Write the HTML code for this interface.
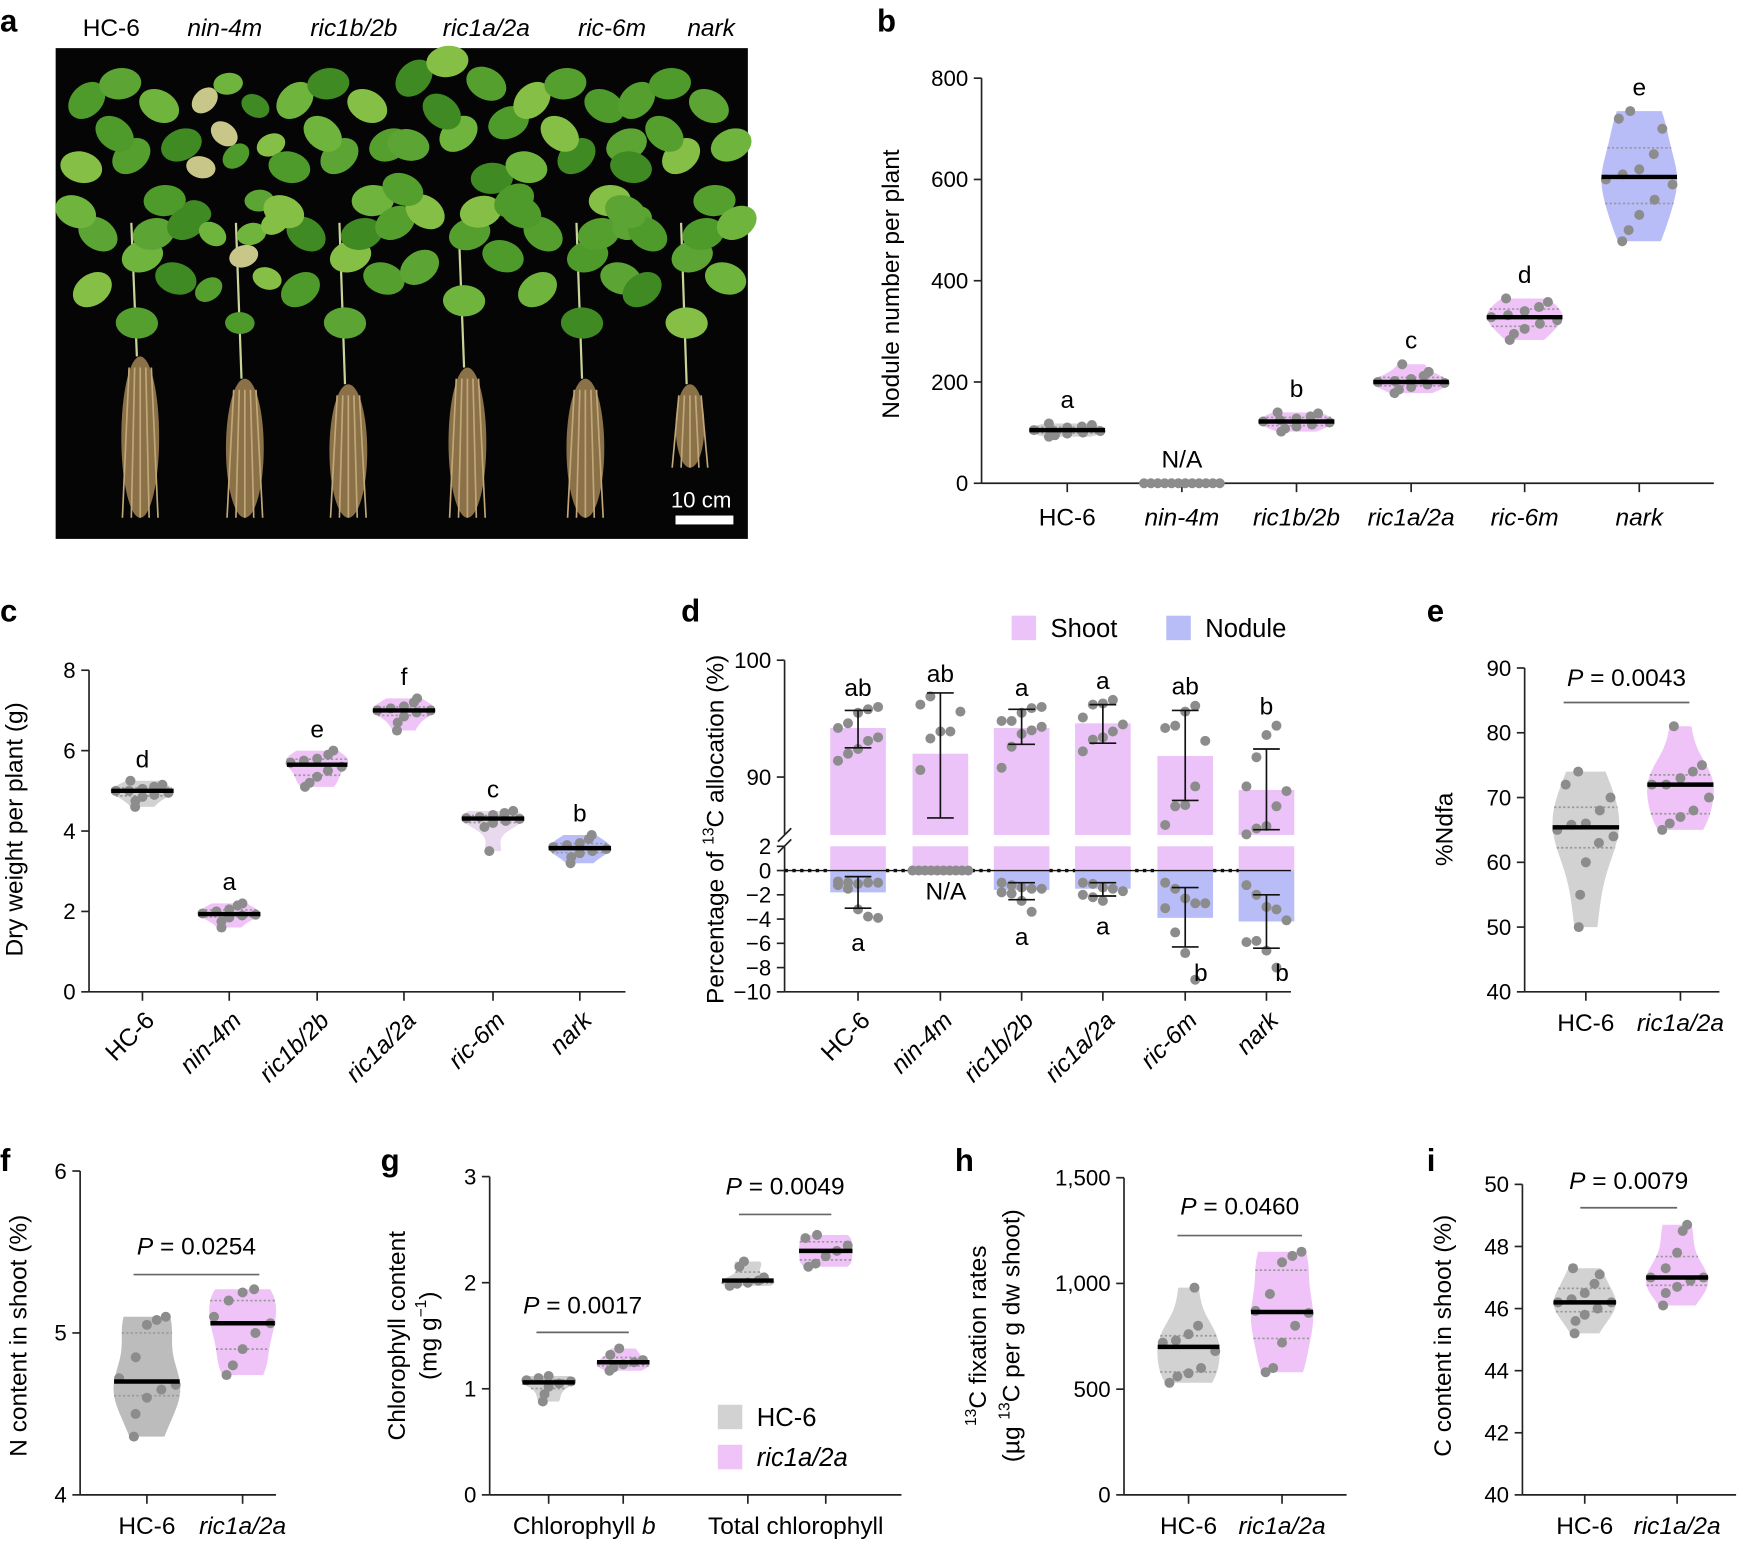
<!DOCTYPE html>
<html><head><meta charset="utf-8"><style>
html,body{margin:0;padding:0;background:#fff}
svg{display:block;font-family:"Liberation Sans",Arial,sans-serif}
</style></head><body>
<svg id="fig" xmlns="http://www.w3.org/2000/svg" width="1745" height="1543" viewBox="0 0 1568 1386">
<g id="panelA">
<text x="0" y="28" font-size="28" font-weight="bold">a</text>
<g font-size="22" text-anchor="middle">
<text x="100" y="32">HC-6</text><text x="202" y="32" font-style="italic">nin-4m</text><text x="318" y="32" font-style="italic">ric1b/2b</text><text x="437" y="32" font-style="italic">ric1a/2a</text><text x="550" y="32" font-style="italic">ric-6m</text><text x="639" y="32" font-style="italic">nark</text></g>
<rect x="50" y="43" width="622" height="441" fill="#050505"/>
<g id="plants"></g>
<text x="630" y="456" fill="#fff" font-size="20" text-anchor="middle">10 cm</text>
<rect x="607" y="463" width="52" height="8" fill="#fff"/>
</g>
<g id="charts"></g>
</svg>
<script>
const NS='http://www.w3.org/2000/svg';
const root=document.getElementById('charts');
function mk(tag,attrs,parent,name){const e=document.createElementNS(NS,tag);for(const k in attrs)e.setAttribute(k,attrs[k]);


(parent||root).appendChild(e);return e;}
function txt(x,y,s,opt,parent,name){const t=mk('text',Object.assign({x:x,y:y,'font-size':20,'text-anchor':'middle'},opt||{}),parent,name);t.textContent=s;return t;}
function lin(d0,d1,r0,r1){return v=>r0+(v-d0)*(r1-r0)/(d1-d0);}
const GRAY='#d2d2d2',DGRAY='#bcbcbc',PINK='#efc3f7',BLUE='#b8bdf8',DOT='#8c8c8c';

// ---- photo plants (decorative) ----
const plantX=[118,212,305,412,518,612];
const rootTop=[320,340,345,330,340,345];
const pg=document.getElementById('plants');
const leafOffsets=[[-40,90],[-10,75],[25,95],[45,130],[-45,150],[0,140],[30,180],[-30,210],[10,230],[40,250],[-35,260],[5,290],[-15,120],[20,210],[-50,190],[50,200]];
const greens=['#4e9a2a','#5ca534','#6fb43d','#3f8a22','#86bf45','#559f2e'];
plantX.forEach((cx,i)=>{
  mk('line',{x1:cx,y1:200,x2:cx+5,y2:rootTop[i],stroke:'#c8d49a','stroke-width':2},pg,'stem');
  leafOffsets.forEach((o,k)=>{
    const sz=i==1?0.7:1;
    mk('ellipse',{cx:cx+o[0]*sz,cy:o[1]-(i==3?20:0),rx:19*sz,ry:14*sz,fill:i==1&&k%4==0?'#c9c68a':greens[(k+i)%6],transform:`rotate(${(k*37)%90-45} ${cx+o[0]*sz} ${o[1]-(i==3?20:0)})`},pg,'leaf');});
  const rh=(i==5?420:465)-rootTop[i];
  mk('ellipse',{cx:cx+8,cy:rootTop[i]+rh/2,rx:i==5?13:17,ry:rh/2,fill:'#8a7148'},pg,'roots');
  for(let k=0;k<5;k++)mk('line',{x1:cx+8+(k-2)*5,y1:rootTop[i]+10,x2:cx+8+(k-2)*8,y2:rootTop[i]+rh,stroke:'#c2a878','stroke-width':1.5},pg,'root-strand');
});

// ---- generic helpers ----
function yAxis(g,x,sc,ticks,labels,top,bot){
  mk('line',{x1:x,y1:top,x2:x,y2:bot,stroke:'#222','stroke-width':1.5},g,'y-axis-line');
  ticks.forEach((t,i)=>{const y=sc(t);mk('line',{x1:x-7,y1:y,x2:x,y2:y,stroke:'#222','stroke-width':1.5},g,'y-tick');
    txt(x-12,y+7,labels[i],{'text-anchor':'end'},g,'y-tick-label');});
}
function xAxis(g,x0,x1,y,cats){
  mk('line',{x1:x0,y1:y,x2:x1,y2:y,stroke:'#222','stroke-width':1.5},g,'x-axis-line');
  cats.forEach(c=>mk('line',{x1:c,y1:y,x2:c,y2:y+8,stroke:'#222','stroke-width':1.5},g,'x-tick'));
}
function quant(s,q){const p=(s.length-1)*q,l=Math.floor(p);return s[l]+(s[Math.min(l+1,s.length-1)]-s[l])*(p-l);}
function violin(g,cx,vals,sc,color,W){
  const s=[...vals].sort((a,b)=>a-b),mn=s[0],mx=s[s.length-1];
  const med=quant(s,0.5),q1=quant(s,0.25),q3=quant(s,0.75);
  let wAt=()=>0;
  if(mx>mn){
    const h=(mx-mn)/5,N=40,dens=[];
    const kd=v=>s.reduce((a,x)=>a+Math.exp(-0.5*((v-x)/h)**2),0);
    for(let k=0;k<=N;k++){dens.push(kd(mn+(mx-mn)*k/N));}
    const dm=Math.max(...dens);
    wAt=v=>W*(0.15+0.85*kd(v)/dm);
    let pts=[];
    for(let k=0;k<=N;k++){const v=mn+(mx-mn)*k/N;pts.push([cx+wAt(v),sc(v)]);}
    for(let k=N;k>=0;k--){const v=mn+(mx-mn)*k/N;pts.push([cx-wAt(v),sc(v)]);}
    mk('polygon',{points:pts.map(p=>p.join(',')).join(' '),fill:color},g,'violin');
    [q1,q3].forEach(q=>mk('line',{x1:cx-wAt(q),x2:cx+wAt(q),y1:sc(q),y2:sc(q),stroke:'#999','stroke-width':1.5,'stroke-dasharray':'2,2'},g,'quartile-line'));
  }
  s.forEach((v,i)=>{const off=mx>mn?((i%5)-2)/2*Math.max(wAt(v)-4,0):(i/(s.length-1)-0.5)*2*W;
    mk('circle',{cx:cx+off,cy:sc(v),r:4.5,fill:DOT},g,'data-point');});
  if(mx>mn){const w=Math.max(wAt(med),18);mk('line',{x1:cx-w,x2:cx+w,y1:sc(med),y2:sc(med),stroke:'#000','stroke-width':4},g,'median-line');}
}
function pval(g,x0,x1,ly,ty,s){
  mk('line',{x1:x0,x2:x1,y1:ly,y2:ly,stroke:'#666','stroke-width':1.5},g,'significance-line');
  const t=mk('text',{x:(x0+x1)/2,y:ty,'font-size':22,'text-anchor':'middle'},g,'p-value');
  t.innerHTML='<tspan font-style="italic">P</tspan> = '+s;
}
function label(g,x,y,s){txt(x,y,s,{'font-size':28,'font-weight':'bold','text-anchor':'start'},g,'panel-label');}
function ytitle(g,x,y,html,fs){const t=mk('text',{x:0,y:0,'font-size':fs||22,'text-anchor':'middle',transform:`translate(${x},${y}) rotate(-90)`},g,'y-axis-title');t.innerHTML=html;}

// ===== Panel b =====
const bCats=['HC-6','nin-4m','ric1b/2b','ric1a/2a','ric-6m','nark'];
const bTicks=[0,200,400,600,800];
const bLetters=['a','N/A','b','c','d','e'];
const bHC6=[92,95,98,100,103,105,107,110,112,115,118];
const bNin=[0,0,0,0,0,0,0,0,0,0,0,0];
const bRic1b=[102,108,112,116,120,122,125,128,132,138,140];
const bRic1a=[178,185,190,195,198,200,202,206,212,220,235];
const bRic6=[283,295,305,315,322,328,332,340,348,358,365];
const bNark=[478,500,530,560,590,600,610,620,650,700,720,735];
(function(){
  const g=mk('g',{},root,'panel-b-nodule-chart');label(g,788,28,'b');
  const sc=lin(0,800,434,70),xs=[959,1062,1165,1268,1370,1473];
  const series=[bHC6,bNin,bRic1b,bRic1a,bRic6,bNark],cols=[GRAY,GRAY,PINK,PINK,PINK,BLUE];
  xAxis(g,882,1540,434,xs);yAxis(g,882,sc,bTicks,bTicks.map(String),70,434);
  series.forEach((s,i)=>{violin(g,xs[i],s,sc,cols[i],34);
    txt(xs[i],sc(Math.max(...s))-14,bLetters[i],{'font-size':22},g,'significance-letter');
    txt(xs[i],472,bCats[i],{'font-size':22,'font-style':i?'italic':'normal'},g,'x-tick-label');});
  ytitle(g,808,255,'Nodule number per plant');
})();

// ===== Panel c =====
const cCats=['HC-6','nin-4m','ric1b/2b','ric1a/2a','ric-6m','nark'];
const cTicks=[0,2,4,6,8];
const cLetters=['d','a','e','f','c','b'];
const cHC6=[4.6,4.75,4.85,4.9,4.95,5.0,5.0,5.05,5.1,5.15,5.25];
const cNin=[1.6,1.75,1.85,1.9,1.92,1.95,2.0,2.05,2.15,2.2];
const cRic1b=[5.1,5.2,5.35,5.5,5.6,5.7,5.75,5.8,5.9,6.0];
const cRic1a=[6.5,6.7,6.85,6.95,7.0,7.0,7.05,7.1,7.2,7.3];
const cRic6=[3.5,4.1,4.2,4.25,4.3,4.32,4.35,4.4,4.45,4.5];
const cNark=[3.2,3.35,3.45,3.5,3.55,3.6,3.65,3.7,3.8,3.9];
(function(){
  const g=mk('g',{},root,'panel-c-dry-weight-chart');label(g,0,558,'c');
  const sc=lin(0,8,891,602),xs=[128,206,285,363,443,521];
  const series=[cHC6,cNin,cRic1b,cRic1a,cRic6,cNark],cols=[GRAY,PINK,PINK,PINK,'#e9d9ee',BLUE];
  xAxis(g,80,562,891,xs);yAxis(g,80,sc,cTicks,cTicks.map(String),602,891);
  series.forEach((s,i)=>{violin(g,xs[i],s,sc,cols[i],28);
    txt(xs[i],sc(Math.max(...s))-12,cLetters[i],{'font-size':22},g,'significance-letter');
    txt(0,0,cCats[i],{'font-size':22,'font-style':i?'italic':'normal','text-anchor':'end',transform:`translate(${xs[i]+12},${918}) rotate(-45)`},g,'x-tick-label');});
  ytitle(g,20,745,'Dry weight  per plant (g)');
})();

// ===== Panel d =====
const dCats=['HC-6','nin-4m','ric1b/2b','ric1a/2a','ric-6m','nark'];
const dShootMean=[94.2,92.0,94.2,94.6,91.8,88.9];
const dShootLo=[92.5,86.5,92.8,92.9,88.0,85.5];
const dShootHi=[95.7,97.2,95.8,96.2,95.7,92.4];
const dNodMean=[-1.8,0,-1.6,-1.5,-3.9,-4.2];
const dNodLo=[-3.1,0,-2.4,-2.1,-6.3,-6.4];
const dNodHi=[-0.5,0,-1.0,-1.0,-1.4,-2.0];
const dShootPts=[[91.4,92.0,92.4,93.1,93.4,94.2,94.6,95.5,95.8,96.0],[90.6,93.3,93.9,93.9,95.6,96.2,96.9],[90.8,92.6,93.7,94.0,94.3,94.8,94.8,95.5,95.9,96.0],[92.2,93.2,93.4,93.9,94.5,95.1,96.2,96.3,96.6],[85.9,87.5,87.6,89.2,93.1,94.2,94.4,95.6,96.1],[85.1,85.6,85.8,87.5,88.8,89.2,91.7,93.6,94.4]];
const dNodPts=[[-0.9,-1.0,-1.1,-1.0,-1.0,-1.2,-1.5,-3.2,-3.8,-3.9],[0,0,0,0,0,0,0,0,0,0],[-1.0,-1.2,-1.4,-1.5,-1.5,-1.8,-1.9,-2.5,-3.4],[-1.0,-1.1,-1.4,-1.5,-1.7,-2.0,-2.2,-2.5],[-1.0,-1.5,-2.3,-2.7,-2.7,-3.1,-5.1,-6.8,-9.0],[-1.2,-2.0,-3.0,-3.2,-4.1,-5.9,-5.8,-6.6,-8.0]];
const dShootLetters=['ab','ab','a','a','ab','b'];
const dNodLetters=['a','N/A','a','a','b','b'];
const dUpTicks=[90,100];
const dLowTicks=[2,0,-2,-4,-6,-8,-10];
(function(){
  const g=mk('g',{},root,'panel-d-allocation-chart');label(g,612,558,'d');
  const su=lin(90,100,698,593),sl=lin(0,-10,782,891),xs=[771,845,918,991,1065,1138],bw=50;
  mk('line',{x1:705,y1:593,x2:705,y2:750,stroke:'#222','stroke-width':1.5},g,'y-axis-upper');
  mk('line',{x1:705,y1:760,x2:705,y2:891,stroke:'#222','stroke-width':1.5},g,'y-axis-lower');
  mk('path',{d:'M699,756 L711,744 M699,766 L711,754',stroke:'#222','stroke-width':1.5,fill:'none'},g,'axis-break');
  dUpTicks.forEach(t=>{mk('line',{x1:698,x2:705,y1:su(t),y2:su(t),stroke:'#222','stroke-width':1.5},g,'y-tick');txt(693,su(t)+7,String(t),{'text-anchor':'end'},g,'y-tick-label');});
  dLowTicks.forEach(t=>{mk('line',{x1:698,x2:705,y1:sl(t),y2:sl(t),stroke:'#222','stroke-width':1.5},g,'y-tick');txt(693,sl(t)+7,t<0?'\u2212'+(-t):String(t),{'text-anchor':'end'},g,'y-tick-label');});
  xAxis(g,705,1160,891,xs);
  mk('line',{x1:705,x2:1160,y1:sl(0),y2:sl(0),stroke:'#111','stroke-width':3,'stroke-dasharray':'3,4'},g,'zero-line');
  xs.forEach((x,i)=>{
    mk('rect',{x:x-bw/2,y:su(dShootMean[i]),width:bw,height:750-su(dShootMean[i]),fill:'#ebc3f8'},g,'shoot-bar');
    mk('rect',{x:x-bw/2,y:sl(2),width:bw,height:sl(0)-sl(2),fill:'#ebc3f8'},g,'shoot-bar-lower');
    if(dNodMean[i]<0)mk('rect',{x:x-bw/2,y:sl(0),width:bw,height:sl(dNodMean[i])-sl(0),fill:BLUE},g,'nodule-bar');
  });
  mk('line',{x1:705,x2:1160,y1:sl(0),y2:sl(0),stroke:'#111','stroke-width':1.2},g,'zero-line-solid');
  xs.forEach((x,i)=>{
    dShootPts[i].forEach((v,k)=>mk('circle',{cx:x+((k%5)-2)*9,cy:su(v),r:4.5,fill:DOT},g,'shoot-point'));
    dNodPts[i].forEach((v,k)=>{const n=dNodPts[i].length;const off=i===1?(k/(n-1)-0.5)*50:((k%5)-2)*9;
      mk('circle',{cx:x+off,cy:sl(v),r:4.5,fill:DOT},g,'nodule-point');});
    [[su(dShootLo[i]),su(dShootHi[i])],[sl(dNodLo[i]),sl(dNodHi[i])]].forEach((e,k)=>{
      if(e[0]===e[1])return;
      mk('line',{x1:x,x2:x,y1:e[0],y2:e[1],stroke:'#111','stroke-width':1.5},g,'error-bar');
      e.forEach(y=>mk('line',{x1:x-12,x2:x+12,y1:y,y2:y,stroke:'#111','stroke-width':1.5},g,'error-cap'));});
    const topPt=Math.max(dShootHi[i],...dShootPts[i]);
    txt(x,su(topPt)-10,dShootLetters[i],{'font-size':22},g,'shoot-letter');
    if(i===1)txt(x+5,sl(-2.4),'N/A',{'font-size':22},g,'nodule-letter');
    else if(i>=4)txt(x+14,sl(-9.1),dNodLetters[i],{'font-size':22},g,'nodule-letter');
    else txt(x,sl(Math.min(dNodLo[i],...dNodPts[i]))+30,dNodLetters[i],{'font-size':22},g,'nodule-letter');
    txt(0,0,dCats[i],{'font-size':22,'font-style':i?'italic':'normal','text-anchor':'end',transform:`translate(${x+12},${918}) rotate(-45)`},g,'x-tick-label');
  });
  mk('rect',{x:909,y:553,width:22,height:22,fill:'#ebc3f8'},g,'legend-shoot-swatch');txt(944,572,'Shoot',{'font-size':23,'text-anchor':'start'},g,'legend-shoot-label');
  mk('rect',{x:1048,y:553,width:22,height:22,fill:BLUE},g,'legend-nodule-swatch');txt(1083,572,'Nodule',{'font-size':23,'text-anchor':'start'},g,'legend-nodule-label');
  ytitle(g,650,745,'Percentage  of  <tspan font-size="14" dy="-9">13</tspan><tspan dy="9">C allocation (%)</tspan>');
})();

// ===== two-group violin panels =====
function twoGroup(o){
  const g=mk('g',{},root,o.name);label(g,o.lx,o.ly,o.letter);
  const sc=lin(o.d0,o.d1,o.y0,o.y1);
  xAxis(g,o.ax,o.ax2,o.y0,o.xs);yAxis(g,o.ax,sc,o.ticks,o.tickLabels,o.y1,o.y0);
  o.series.forEach((s,i)=>violin(g,o.xs[i],s,sc,o.cols[i],o.W||28));
  (o.cats||[]).forEach((c,i)=>txt(o.xs[i],o.y0+35,c,{'font-size':22,'font-style':i?'italic':'normal'},g,'x-tick-label'));
  o.pv.forEach(p=>pval(g,p[0],p[1],p[2],p[3],p[4]));
  return g;
}
// e
const eTicks=[40,50,60,70,80,90];
const eHC6=[50,55,60,63,64,65,65.8,66,68,70,72,74];
const eRic=[65,66,67,68,70,72,72,73,74,75,81];
twoGroup({name:'panel-e-ndfa-chart',letter:'e',lx:1282,ly:558,d0:40,d1:90,y0:891,y1:600,ax:1370,ax2:1545,xs:[1425,1510],
  ticks:eTicks,tickLabels:eTicks.map(String),series:[eHC6,eRic],cols:[GRAY,PINK],cats:['HC-6','ric1a/2a'],W:30,
  pv:[[1405,1518,631,616,'0.0043']]});
ytitle(root,1305,745,'%Ndfa');
// f
const fTicks=[4,5,6];
const fHC6=[4.36,4.5,4.6,4.65,4.68,4.72,4.85,5.05,5.08,5.1];
const fRic=[4.74,4.8,4.9,5.0,5.06,5.1,5.2,5.25,5.27];
twoGroup({name:'panel-f-n-content-chart',letter:'f',lx:0,ly:1052,d0:4,d1:6,y0:1343,y1:1052,ax:72,ax2:248,xs:[132,218],
  ticks:fTicks,tickLabels:fTicks.map(String),series:[fHC6,fRic],cols:[DGRAY,PINK],cats:['HC-6','ric1a/2a'],W:30,
  pv:[[120,233,1145,1127,'0.0254']]});
ytitle(root,24,1200,'N content in shoot (%)');
// g
const gTicks=[0,1,2,3];
const gChlHC6=[0.88,0.95,1.02,1.05,1.07,1.08,1.1,1.12];
const gChlRic=[1.17,1.2,1.23,1.25,1.27,1.32,1.38];
const gTotHC6=[1.97,1.99,2.0,2.02,2.05,2.15,2.2];
const gTotRic=[2.15,2.18,2.25,2.3,2.35,2.42,2.45];
(function(){
  const g=twoGroup({name:'panel-g-chlorophyll-chart',letter:'g',lx:342,ly:1052,d0:0,d1:3,y0:1343,y1:1057,ax:440,ax2:810,xs:[493,560,672,742],
    ticks:gTicks,tickLabels:gTicks.map(String),series:[gChlHC6,gChlRic,gTotHC6,gTotRic],cols:[GRAY,PINK,GRAY,PINK],W:24,
    pv:[[482,565,1197,1180,'0.0017'],[664,747,1091,1073,'0.0049']]});
  const t1=txt(525,1378,'',{'font-size':22},g,'x-tick-label');t1.innerHTML='Chlorophyll <tspan font-style="italic">b</tspan>';
  txt(715,1378,'Total chlorophyll',{'font-size':22},g,'x-tick-label');
  mk('rect',{x:645,y:1262,width:22,height:22,fill:GRAY},g,'legend-hc6-swatch');txt(680,1281,'HC-6',{'font-size':23,'text-anchor':'start'},g,'legend-hc6-label');
  mk('rect',{x:645,y:1298,width:22,height:22,fill:PINK},g,'legend-ric-swatch');txt(680,1317,'ric1a/2a',{'font-size':23,'text-anchor':'start','font-style':'italic'},g,'legend-ric-label');
  ytitle(g,364,1200,'Chlorophyll content');
  ytitle(g,392,1200,'(mg g<tspan font-size="14" dy="-9">\u22121</tspan><tspan dy="9">)</tspan>');
})();
// h
const hTicks=[0,500,1000,1500];
const hHC6=[530,560,575,600,680,720,730,760,800,980];
const hRic=[580,600,720,800,860,870,950,1100,1130,1150];
twoGroup({name:'panel-h-c-fixation-chart',letter:'h',lx:858,ly:1052,d0:0,d1:1500,y0:1343,y1:1058,ax:1010,ax2:1210,xs:[1068,1152],
  ticks:hTicks,tickLabels:['0','500','1,000','1,500'],series:[hHC6,hRic],cols:[GRAY,PINK],cats:['HC-6','ric1a/2a'],W:28,
  pv:[[1058,1170,1110,1091,'0.0460']]});
ytitle(root,886,1200,'<tspan font-size="14" dy="-9">13</tspan><tspan dy="9">C fixation rates</tspan>');
ytitle(root,916,1200,'(\u00b5g <tspan font-size="14" dy="-9">13</tspan><tspan dy="9">C per g dw shoot)</tspan>');
// i
const iTicks=[40,42,44,46,48,50];
const iHC6=[45.2,45.6,45.8,46.0,46.2,46.2,46.3,46.5,46.8,47.1,47.3];
const iRic=[46.1,46.5,46.7,46.9,47.0,47.0,47.3,47.8,48.5,48.7];
twoGroup({name:'panel-i-c-content-chart',letter:'i',lx:1282,ly:1052,d0:40,d1:50,y0:1343,y1:1064,ax:1368,ax2:1560,xs:[1424,1507],
  ticks:iTicks,tickLabels:iTicks.map(String),series:[iHC6,iRic],cols:[GRAY,PINK],cats:['HC-6','ric1a/2a'],W:28,
  pv:[[1420,1507,1085,1068,'0.0079']]});
ytitle(root,1304,1200,'C content in shoot (%)');
</script>
</body></html>
